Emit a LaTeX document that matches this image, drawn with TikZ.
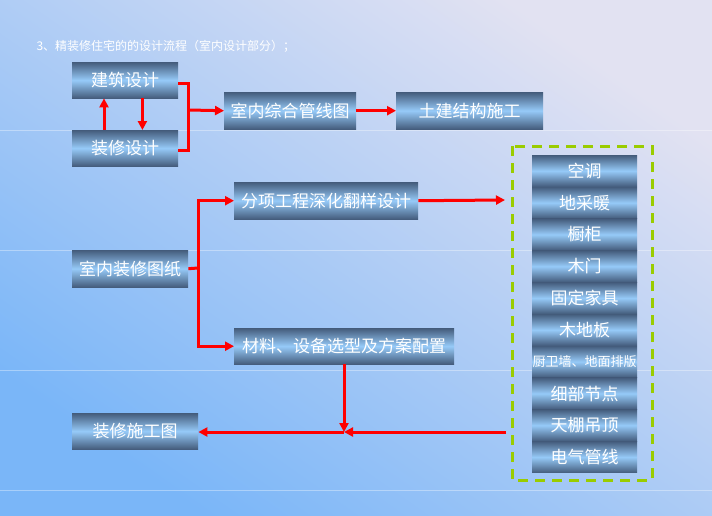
\documentclass[tikz,border=0pt]{standalone}
\usepackage{fontspec}
\setmainfont{Noto Sans CJK SC}
\usetikzlibrary{arrows.meta}
\usetikzlibrary{positioning}
\definecolor{bardark}{RGB}{68,92,124}
\definecolor{barlight}{RGB}{150,202,248}
\definecolor{bgblue}{RGB}{122,182,248}
\definecolor{bgpale}{RGB}{226,226,242}
\definecolor{dashgreen}{RGB}{154,204,0}

\begin{document}
\begin{tikzpicture}[x=1pt,y=-1pt,>={Triangle[length=9pt,width=9pt]},
    bar/.style={rectangle,inner sep=0pt,anchor=north west,top color=bardark,bottom color=bardark,middle color=barlight,text=white,font=\fontsize{17}{17}\selectfont},
    link/.style={draw=red,line width=3pt},
    item/.style={bar,minimum width=105pt,minimum height=31.4pt,anchor=north}]
  % background
  \shade[bottom color=bgblue,top color=bgpale,shading angle=-35] (0,0) rectangle (712,515);
  \useasboundingbox (0,0) rectangle (712,515);
  \foreach \yy in {130,250,370,490} \draw[white,opacity=0.35] (0,\yy) -- (712,\yy);
  \node[anchor=west,text=white,font=\fontsize{12}{12}\selectfont] (title) at (33,46) {3、精装修住宅的的设计流程（室内设计部分）；};

  \node[bar,minimum width=106pt,minimum height=36pt] (arch) at (72,62) {建筑设计};
  \node[bar,minimum width=106pt,minimum height=36pt] (deco) at (72,130) {装修设计};
  \node[bar,minimum width=132pt,minimum height=37pt] (pipe) at (224,92) {室内综合管线图};
  \node[bar,minimum width=147pt,minimum height=37pt] (civil) at (396,92) {土建结构施工};
  \node[bar,minimum width=116pt,minimum height=37pt] (draw) at (72,250) {室内装修图纸};
  \node[bar,minimum width=184pt,minimum height=37pt] (detail) at (234,182) {分项工程深化翻样设计};
  \node[bar,minimum width=220pt,minimum height=36pt] (mat) at (234,328) {材料、设备选型及方案配置};
  \node[bar,minimum width=126pt,minimum height=36pt] (build) at (72,413) {装修施工图};

  % right column
  \node[item] (i1) at (584.5,155) {空调};
  \foreach \t [count=\k from 2,remember=\k as \p (initially 1)] in {地采暖,橱柜,木门,固定家具,木地板,{\fontsize{13}{13}\selectfont 厨卫墙、地面排版},细部节点,天棚吊顶,电气管线}
    \node[item,below=0pt of i\p] (i\k) {\t};
  \draw[dashgreen,line width=3pt,dash pattern=on 10pt off 7pt] (512,146) rectangle (652,480);

  \coordinate (join) at (344,432);
  \draw[link,->] ([xshift=-36pt]arch.south east) -- ([xshift=-36pt]deco.north east);
  \draw[link,<-] ([xshift=32pt]arch.south west) -- ([xshift=32pt]deco.north west);
  \draw[link] ([yshift=-3pt]arch.east) -| (188,108) |- ([yshift=-2pt]deco.east);
  \draw[link,->] (188,110) -- (pipe.west);
  \draw[link,->] (pipe.east) -- (civil.west);
  \draw[link] (draw.east) -- (198,268);
  \draw[link,->] (198,268) |- (detail.west);
  \draw[link,->] (198,268) |- (mat.west);
  \draw[link,->] (detail.east) -- (505,200);
  \draw[link,->] (mat.south -| join) -- (join);
  \draw[link,->] (506,432) -- (join);
  \draw[link,->] (join) -- (join -| build.east);
\end{tikzpicture}
\end{document}
